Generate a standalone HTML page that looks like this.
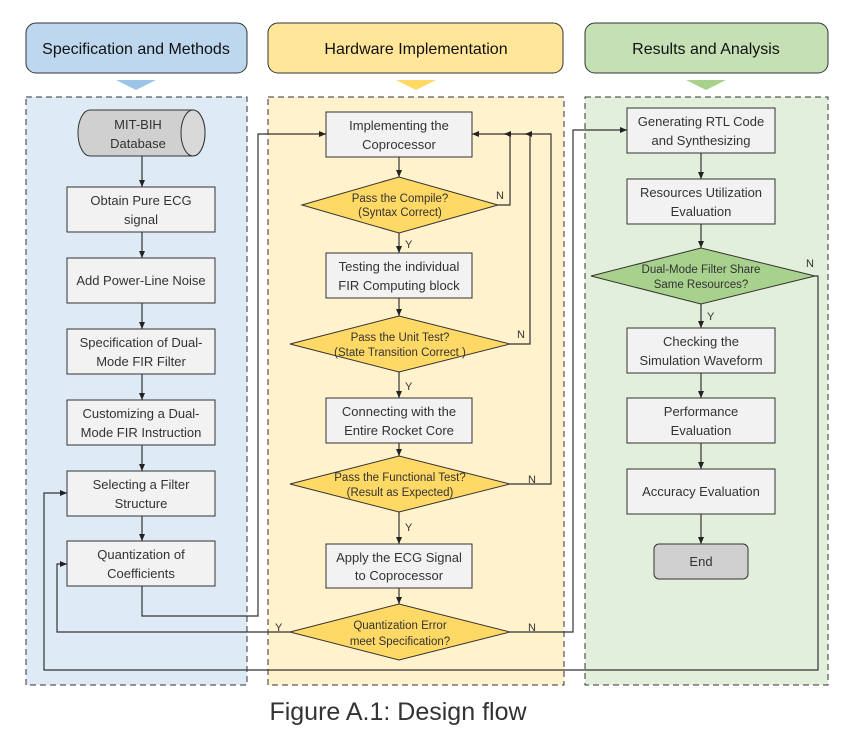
<!DOCTYPE html>
<html><head><meta charset="utf-8"><style>
body{margin:0;background:#fff;width:853px;height:738px;overflow:hidden}
svg text{font-family:"Liberation Sans",sans-serif;fill:#333}
</style></head><body>
<svg width="853" height="738" viewBox="0 0 853 738" xmlns="http://www.w3.org/2000/svg">
<defs><marker id="a" markerWidth="8" markerHeight="8" refX="7" refY="4" orient="auto" markerUnits="userSpaceOnUse"><path d="M0,1 L7,4 L0,7z" fill="#222"/></marker></defs>
<!-- headers -->
<rect x="26" y="23" width="221" height="50" rx="10" fill="#bdd7ee" stroke="#333"/>
<rect x="268" y="23" width="295" height="50" rx="10" fill="#ffe699" stroke="#333"/>
<rect x="585" y="23" width="243" height="50" rx="10" fill="#c5e0b4" stroke="#333"/>
<text x="136" y="54" font-size="16" text-anchor="middle" fill="#111" style="fill:#111">Specification and Methods</text>
<text x="416" y="54" font-size="16" text-anchor="middle" style="fill:#111">Hardware Implementation</text>
<text x="706" y="54" font-size="16" text-anchor="middle" style="fill:#111">Results and Analysis</text>
<path d="M116,80 L156,80 L136,90z" fill="#9dc3e6"/>
<path d="M396,80 L436,80 L416,90z" fill="#ffd966"/>
<path d="M686,80 L726,80 L706,90z" fill="#a9d18e"/>
<!-- panels -->
<rect x="26" y="97" width="221" height="588" fill="#deebf7" stroke="#333" stroke-dasharray="6,4"/>
<rect x="268" y="97" width="296" height="588" fill="#fff2cc" stroke="#333" stroke-dasharray="6,4"/>
<rect x="585" y="97" width="243" height="588" fill="#e2efda" stroke="#333" stroke-dasharray="6,4"/>
<g stroke="#333" stroke-width="1.2" fill="none">
<!-- left column connectors -->
<line x1="142" y1="156" x2="142" y2="187" marker-end="url(#a)"/>
<line x1="142" y1="232" x2="142" y2="258" marker-end="url(#a)"/>
<line x1="142" y1="303" x2="142" y2="329" marker-end="url(#a)"/>
<line x1="142" y1="374" x2="142" y2="400" marker-end="url(#a)"/>
<line x1="142" y1="445" x2="142" y2="471" marker-end="url(#a)"/>
<line x1="142" y1="516" x2="142" y2="541" marker-end="url(#a)"/>
<!-- middle connectors -->
<line x1="399" y1="157" x2="399" y2="177" marker-end="url(#a)"/>
<line x1="399" y1="233" x2="399" y2="253" marker-end="url(#a)"/>
<line x1="399" y1="298" x2="399" y2="316" marker-end="url(#a)"/>
<line x1="399" y1="372" x2="399" y2="398" marker-end="url(#a)"/>
<line x1="399" y1="443" x2="399" y2="456" marker-end="url(#a)"/>
<line x1="399" y1="512" x2="399" y2="544" marker-end="url(#a)"/>
<line x1="399" y1="588" x2="399" y2="604" marker-end="url(#a)"/>
<!-- right connectors -->
<line x1="701" y1="153" x2="701" y2="179" marker-end="url(#a)"/>
<line x1="701" y1="224" x2="701" y2="248" marker-end="url(#a)"/>
<line x1="701" y1="304" x2="701" y2="328" marker-end="url(#a)"/>
<line x1="701" y1="373" x2="701" y2="398" marker-end="url(#a)"/>
<line x1="701" y1="443" x2="701" y2="469" marker-end="url(#a)"/>
<line x1="701" y1="514" x2="701" y2="544" marker-end="url(#a)"/>
<!-- loops -->
<polyline points="142,586 142,616 258,616 258,134 326,134" marker-end="url(#a)"/>
<polyline points="498,205 510,205 510,134 472,134" marker-end="url(#a)"/>
<polyline points="510,344 530,344 530,134 504,134" marker-end="url(#a)"/>
<polyline points="510,484 551,484 551,134 525,134" marker-end="url(#a)"/>
<polyline points="510,632 573,632 573,130 627,130" marker-end="url(#a)"/>
<polyline points="290,632 57,632 57,564 67,564" marker-end="url(#a)"/>
<polyline points="815,276 818,276 818,670 44,670 44,493 67,493" marker-end="url(#a)"/>
</g>
<!-- left nodes -->
<path d="M90,110 L193,110 A12,23 0 0 1 193,156 L90,156 A12,23 0 0 1 90,110z" fill="#d0d0d0" stroke="#333"/>
<ellipse cx="193" cy="133" rx="12" ry="23" fill="#d9d9d9" stroke="#333"/>
<text x="138" y="129" font-size="13" text-anchor="middle">MIT-BIH</text>
<text x="138" y="148" font-size="13" text-anchor="middle">Database</text>
<g fill="#f2f2f2" stroke="#333">
<rect x="67" y="187" width="148" height="45"/>
<rect x="67" y="258" width="148" height="45"/>
<rect x="67" y="329" width="148" height="45"/>
<rect x="67" y="400" width="148" height="45"/>
<rect x="67" y="471" width="148" height="45"/>
<rect x="67" y="541" width="148" height="45"/>
<rect x="326" y="112" width="146" height="45"/>
<rect x="326" y="253" width="146" height="45"/>
<rect x="326" y="398" width="146" height="45"/>
<rect x="326" y="544" width="146" height="44"/>
<rect x="627" y="108" width="148" height="45"/>
<rect x="627" y="179" width="148" height="45"/>
<rect x="627" y="328" width="148" height="45"/>
<rect x="627" y="398" width="148" height="45"/>
<rect x="627" y="469" width="148" height="45"/>
</g>
<rect x="654" y="544" width="94" height="35" rx="5" fill="#d0d0d0" stroke="#333"/>
<g fill="#ffd966" stroke="#333">
<path d="M302,205 L399,177 L498,205 L399,233z"/>
<path d="M290,344 L399,316 L510,344 L399,372z"/>
<path d="M290,484 L399,456 L510,484 L399,512z"/>
<path d="M290,632 L399,604 L510,632 L399,660z"/>
</g>
<path d="M591,276 L701,248 L815,276 L701,304z" fill="#a9d18e" stroke="#333"/>
<g font-size="13" text-anchor="middle">
<text x="141" y="205">Obtain Pure ECG</text><text x="141" y="224">signal</text>
<text x="141" y="285">Add Power-Line Noise</text>
<text x="141" y="347">Specification of Dual-</text><text x="141" y="366">Mode FIR Filter</text>
<text x="141" y="418">Customizing a Dual-</text><text x="141" y="437">Mode FIR Instruction</text>
<text x="141" y="489">Selecting a Filter</text><text x="141" y="508">Structure</text>
<text x="141" y="559">Quantization of</text><text x="141" y="578">Coefficients</text>
<text x="399" y="130">Implementing the</text><text x="399" y="149">Coprocessor</text>
<text x="399" y="271">Testing the individual</text><text x="399" y="290">FIR Computing block</text>
<text x="399" y="416">Connecting with the</text><text x="399" y="435">Entire Rocket Core</text>
<text x="399" y="562">Apply the ECG Signal</text><text x="399" y="580">to Coprocessor</text>
<text x="701" y="126">Generating RTL Code</text><text x="701" y="145">and Synthesizing</text>
<text x="701" y="197">Resources Utilization</text><text x="701" y="216">Evaluation</text>
<text x="701" y="346">Checking the</text><text x="701" y="365">Simulation Waveform</text>
<text x="701" y="416">Performance</text><text x="701" y="435">Evaluation</text>
<text x="701" y="496">Accuracy Evaluation</text>
<text x="701" y="566">End</text>
</g>
<g font-size="11.5" text-anchor="middle">
<text x="400" y="202">Pass the Compile?</text><text x="400" y="216">(Syntax Correct)</text>
<text x="400" y="341">Pass the Unit Test?</text><text x="400" y="356">(State Transition Correct )</text>
<text x="400" y="481">Pass the Functional Test?</text><text x="400" y="496">(Result as Expected)</text>
<text x="400" y="629">Quantization Error</text><text x="400" y="645">meet Specification?</text>
<text x="701" y="273">Dual-Mode Filter Share</text><text x="701" y="288">Same Resources?</text>
</g>
<g font-size="11">
<text x="496" y="199">N</text><text x="517" y="338">N</text><text x="528" y="483">N</text><text x="528" y="631">N</text>
<text x="806" y="267">N</text><text x="275" y="631">Y</text>
<text x="405" y="248">Y</text><text x="405" y="390">Y</text><text x="405" y="531">Y</text><text x="707" y="320">Y</text>
</g>
<text x="398" y="720" font-size="25" text-anchor="middle" style="fill:#333">Figure A.1: Design flow</text>
</svg>
</body></html>
